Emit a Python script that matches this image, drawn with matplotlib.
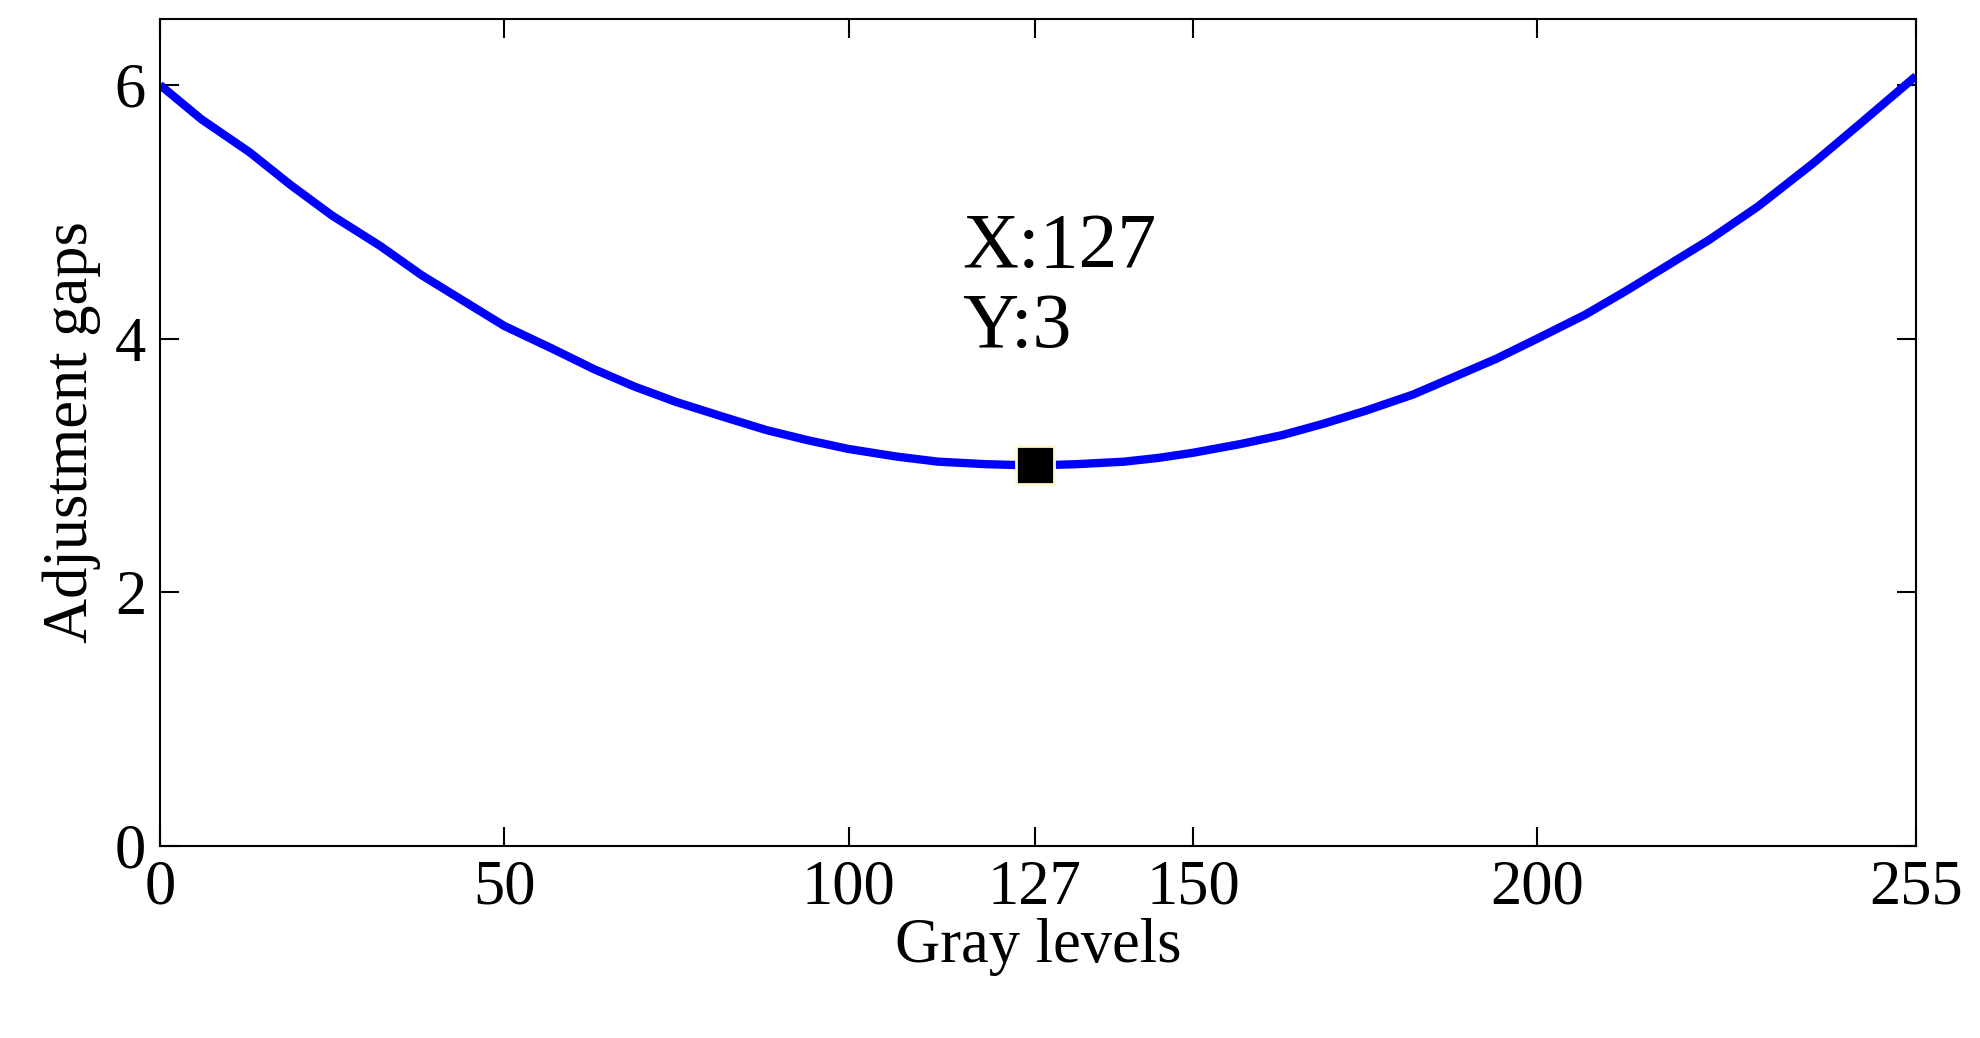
import matplotlib
matplotlib.use("Agg")
import matplotlib.pyplot as plt

gray = [0, 6, 13, 19, 25, 32, 38, 44, 50, 57, 63, 69, 75, 82, 88, 94, 100, 107, 113, 120, 127,
        133, 140, 145, 150, 157, 163, 169, 175, 182, 188, 194, 200, 207, 213, 219, 225, 232, 240, 247, 255]
gaps = [6.0, 5.73, 5.47, 5.21, 4.97, 4.73, 4.5, 4.3, 4.1, 3.92, 3.76, 3.62, 3.5, 3.38, 3.28, 3.2, 3.13, 3.07, 3.03, 3.01, 3.0,
        3.01, 3.03, 3.06, 3.1, 3.17, 3.24, 3.33, 3.43, 3.56, 3.7, 3.84, 4.0, 4.19, 4.38, 4.58, 4.78, 5.04, 5.38, 5.7, 6.07]
xticks = [0, 50, 100, 127, 150, 200, 255]
yticks = [0, 2, 4, 6]

plt.rcParams['font.family'] = ['Liberation Serif', 'DejaVu Serif']
fig = plt.figure(figsize=(19.8, 10.38), dpi=100)
ax = fig.add_axes([160/1980, 1-846/1038, (1916-160)/1980, (846-19)/1038])
ax.plot(gray, gaps, color='#0000ff', lw=6, solid_capstyle='butt')
ax.plot([127], [3], marker='s', ms=28, color='black', mec='#fffbd0', mew=2)
ax.text(116.5, 3.8, "X:127\nY:3", fontsize=56, ha='left', va='bottom', linespacing=1.15)
ax.set_xlim(0, 255)
ax.set_ylim(0, 6.52)
ax.set_xticks(xticks)
ax.set_yticks(yticks)
ax.tick_params(direction='in', length=14, width=1.5, labelsize=45, top=True, right=True, pad=10)
for s in ax.spines.values():
    s.set_linewidth(1.5)
ax.set_xlabel("Gray levels", fontsize=45, labelpad=0)
ax.set_ylabel("Adjustment gaps", fontsize=45, labelpad=10)
fig.savefig("out.png", dpi=100)
